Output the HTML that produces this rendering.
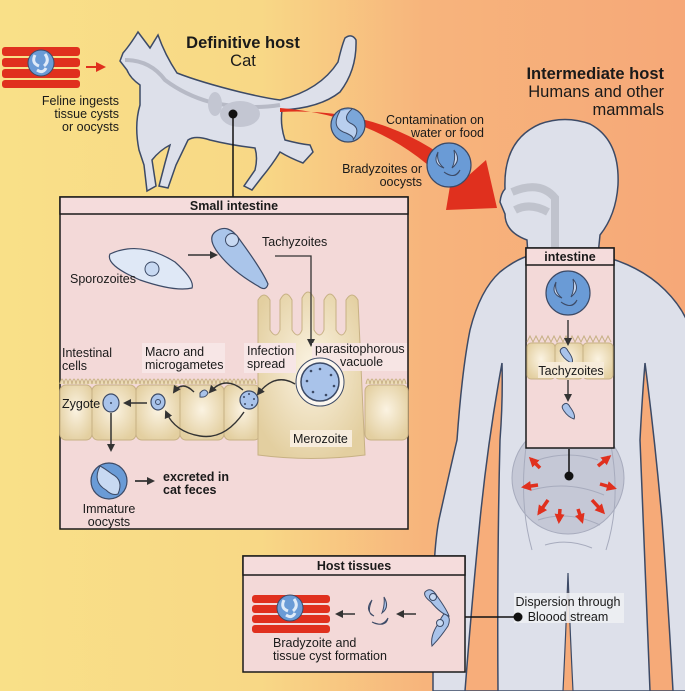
<!DOCTYPE html>
<html><head><meta charset="utf-8"><style>
html,body{margin:0;padding:0;background:#fff}
svg{display:block}
text{font-family:"Liberation Sans",Arial,sans-serif;fill:#1a1a1a}
</style></head><body>
<svg width="685" height="691" viewBox="0 0 685 691" xmlns="http://www.w3.org/2000/svg">
<defs>
<linearGradient id="bg" x1="0" x2="1" y1="0" y2="0">
<stop offset="0" stop-color="#f9e088"/>
<stop offset="0.38" stop-color="#f8d886"/>
<stop offset="0.62" stop-color="#f7b47c"/>
<stop offset="1" stop-color="#f6a878"/>
</linearGradient>
<radialGradient id="cell" cx="0.5" cy="0.45" r="0.6">
<stop offset="0" stop-color="#fbf3e2"/><stop offset="1" stop-color="#e3cfa0"/>
</radialGradient>
<marker id="ah" markerWidth="8" markerHeight="8" refX="6" refY="4" orient="auto" markerUnits="userSpaceOnUse"><path d="M0,0 L8,4 L0,8 Z" fill="#333"/></marker>
<marker id="rh" markerWidth="10" markerHeight="10" refX="7" refY="5" orient="auto" markerUnits="userSpaceOnUse"><path d="M0,0 L10,5 L0,10 Z" fill="#e0301e"/></marker>
</defs>
<rect width="685" height="691" fill="url(#bg)"/>

<path d="M527,240 Q505,232 505,214 L500,202 Q501,193 505,189 Q503,140 540,124 Q565,115 590,124 Q620,140 618,185 Q616,215 600,235 L598,255 Q640,265 665,290 Q685,310 690,330 L690,691 L433,691 L433,600 Q434,540 440,515 Q450,470 457,440 Q462,370 470,330 Q480,290 500,272 Q515,260 528,256 Z" fill="#dde0ea" stroke="#3c4a66" stroke-width="1.5"/>
<path d="M502,363 Q503,400 500,440 Q497,560 498,691 L465,691 Q472,600 480,520 Q488,440 502,363 Z" fill="#f7ad7a" stroke="#3c4a66" stroke-width="1.5"/>
<path d="M645,363 Q642,400 640,440 Q645,560 650,691 L673,691 Q668,600 662,520 Q655,440 645,363 Z" fill="#f6aa78" stroke="#3c4a66" stroke-width="1.5"/>
<path d="M568,573 Q566,630 563,691 L573,691 Q570,630 568,573 Z" fill="#f6ab79" stroke="#3c4a66" stroke-width="1.2"/>
<path d="M512,192 Q540,180 555,198 L555,340 M515,210 Q530,202 548,212" fill="none" stroke="#b9bcc6" stroke-width="8" opacity="0.8"/>
<g fill="#c5c8d6" stroke="#a7abbd" stroke-width="1">
<ellipse cx="568" cy="478" rx="56" ry="56"/>
<path d="M527,440 Q518,500 532,550 M610,440 Q622,500 606,550 M538,460 Q568,450 598,460 M532,490 Q568,480 604,495 M538,520 Q568,510 600,525 M545,545 Q568,538 592,548" fill="none"/>
</g>
<g stroke="#e0301e" stroke-width="3.5" marker-end="url(#rh)">
<line x1="540" y1="468" x2="531" y2="459"/><line x1="598" y1="466" x2="609" y2="457"/>
<line x1="538" y1="485" x2="524" y2="487"/><line x1="600" y1="484" x2="614" y2="488"/>
<line x1="548" y1="500" x2="539" y2="513"/><line x1="592" y1="500" x2="603" y2="512"/>
<line x1="560" y1="509" x2="559" y2="521"/><line x1="578" y1="509" x2="582" y2="521"/>
</g>
<rect x="514" y="593" width="110" height="30" fill="#eef0f3" opacity="0.85"/>
<text x="568" y="606" font-size="12.5" text-anchor="middle">Dispersion through</text>
<text x="568" y="621" font-size="12.5" text-anchor="middle">Bloood stream</text>
<line x1="569" y1="449" x2="569" y2="476" stroke="#111" stroke-width="1.5"/>
<circle cx="569" cy="476" r="4.5" fill="#111"/>

<path d="M138,32 L150,48 L158,35 Q165,55 177,73 Q200,82 240,92 Q265,98 280,100 Q320,90 338,62 Q342,45 345,38 Q352,33 356,40 Q357,70 340,92 Q320,108 282,110 Q280,125 285,140 Q300,144 310,145 L313,152 L303,163 Q290,158 280,152 Q272,165 262,177 L252,190 L244,186 L255,170 Q258,158 255,148 Q230,145 210,140 Q195,135 188,140 L176,165 L168,188 L159,186 L165,163 L170,145 Q160,150 152,160 L156,186 L147,191 L144,165 L139,150 Q134,125 140,105 L140,85 Q130,78 127,70 L120,61 L123,53 Q130,45 138,32 Z" fill="#dde0ea" stroke="#3c4a66" stroke-width="1.5"/>
<path d="M125,60 Q150,60 165,80 Q185,95 210,102 Q225,106 255,107 Q268,107 280,105" fill="none" stroke="#b7bac6" stroke-width="4"/>
<ellipse cx="215" cy="104" rx="7" ry="12" fill="#c3c6d2"/>
<ellipse cx="240" cy="114" rx="20" ry="13" fill="#c3c6d2"/>
<line x1="233" y1="114" x2="233" y2="197" stroke="#111" stroke-width="1.5"/>
<circle cx="233" cy="114" r="4.5" fill="#111"/>

<path d="M280,108 Q385,116 450,186 L446,210 L497,208 L486,160 L468,176 Q390,106 280,112 Z" fill="#e0301e"/>
<circle cx="348" cy="125" r="17" fill="#7ba6d8" stroke="#3c4a66" stroke-width="1.2"/>
<path d="M340,111 Q330,128 346,133 Q355,137 353,140 Q362,128 350,123 Q342,118 352,109" fill="#b9cfee" stroke="#3c4a66"/>
<circle cx="449" cy="165" r="22" fill="#6a9bd6" stroke="#3c4a66" stroke-width="1.2"/>
<path d="M438,152 q-6,12 6,16 q-8,-6 -6,-16 Z M454,150 q8,10 -2,18 q4,-8 2,-18 Z M444,172 q10,8 16,-2 q-4,10 -16,2 Z" fill="#c8d9f2" stroke="#3c4a66"/>
<text x="484" y="124" font-size="12.5" text-anchor="end">Contamination on</text>
<text x="484" y="137" font-size="12.5" text-anchor="end">water or food</text>
<text x="422" y="173" font-size="12.5" text-anchor="end">Bradyzoites or</text>
<text x="422" y="186" font-size="12.5" text-anchor="end">oocysts</text>

<g fill="#e0301e">
<rect x="2" y="47" width="78" height="9" rx="3"/><rect x="2" y="58" width="78" height="9" rx="3"/>
<rect x="2" y="69" width="78" height="9" rx="3"/><rect x="2" y="80" width="78" height="8" rx="3"/>
</g>
<circle cx="41" cy="63" r="13" fill="#6a9bd6" stroke="#3c4a66"/>
<path d="M35,55 q-4,8 4,11 M45,54 q5,7 -1,12 M37,70 q6,4 9,-2" fill="none" stroke="#e0ebf8" stroke-width="3"/>
<line x1="86" y1="67" x2="103" y2="67" stroke="#e0301e" stroke-width="2" marker-end="url(#rh)"/>
<text x="119" y="105" font-size="12.5" text-anchor="end">Feline ingests</text>
<text x="119" y="118" font-size="12.5" text-anchor="end">tissue cysts</text>
<text x="119" y="131" font-size="12.5" text-anchor="end">or oocysts</text>

<text x="243" y="48" font-size="16.5" font-weight="bold" text-anchor="middle">Definitive host</text>
<text x="243" y="66" font-size="16.5" text-anchor="middle">Cat</text>
<text x="664" y="79" font-size="16.5" font-weight="bold" text-anchor="end">Intermediate host</text>
<text x="664" y="97" font-size="16.5" text-anchor="end">Humans and other</text>
<text x="664" y="115" font-size="16.5" text-anchor="end">mammals</text>

<rect x="60" y="197" width="348" height="332" fill="#f3d9d8" stroke="#1a1a1a" stroke-width="1.5"/>
<rect x="60" y="197" width="348" height="17" fill="#f5dcdc" stroke="#1a1a1a" stroke-width="1.5"/>
<text x="234" y="210" font-size="12.5" font-weight="bold" text-anchor="middle">Small intestine</text>
<g fill="url(#cell)" stroke="#c7b184" stroke-width="1">
<rect x="60" y="385" width="32" height="55" rx="6"/>
<rect x="92" y="385" width="44" height="55" rx="6"/>
<rect x="136" y="385" width="44" height="55" rx="6"/>
<rect x="180" y="385" width="44" height="55" rx="6"/>
<rect x="224" y="385" width="36" height="55" rx="6"/>
<rect x="365" y="385" width="43" height="55" rx="6"/>
<path d="M258,455 L258,300 Q264,290 270,300 L270,330 Q276,340 280,330 L280,300 Q286,288 292,300 L292,330 Q298,340 302,330 L302,298 Q308,286 314,298 L314,330 Q320,340 324,330 L324,300 Q330,288 336,300 L336,330 Q342,340 346,330 L346,300 Q352,290 358,300 L365,455 Q311,462 258,455 Z"/>
</g>
<path d="M60,384 Q62,374 64,384 Q66,374 68,384 Q70,374 72,384 Q74,374 76,384 Q78,374 80,384 Q82,374 84,384 Q86,374 88,384 Q90,374 92,384 Q94,374 96,384 Q98,374 100,384 Q102,374 104,384 Q106,374 108,384 Q110,374 112,384 Q114,374 116,384 Q118,374 120,384 Q122,374 124,384 Q126,374 128,384 Q130,374 132,384 Q134,374 136,384 Q138,374 140,384 Q142,374 144,384 Q146,374 148,384 Q150,374 152,384 Q154,374 156,384 Q158,374 160,384 Q162,374 164,384 Q166,374 168,384 Q170,374 172,384 Q174,374 176,384 Q178,374 180,384 Q182,374 184,384 Q186,374 188,384 Q190,374 192,384 Q194,374 196,384 Q198,374 200,384 Q202,374 204,384 Q206,374 208,384 Q210,374 212,384 Q214,374 216,384 Q218,374 220,384 Q222,374 224,384 Q226,374 228,384 Q230,374 232,384 Q234,374 236,384 Q238,374 240,384 Q242,374 244,384 Q246,374 248,384 Q250,374 252,384 Q254,374 256,384 M366,384 Q368,374 370,384 Q372,374 374,384 Q376,374 378,384 Q380,374 382,384 Q384,374 386,384 Q388,374 390,384 Q392,374 394,384 Q396,374 398,384 Q400,374 402,384 Q404,374 406,384" fill="#ecdcb8" stroke="#c7b184" stroke-width="1"/>

<path d="M110,254 Q140,240 175,262 Q195,280 192,288 Q175,292 140,280 Q105,265 110,254 Z" fill="#dfe8f6" stroke="#3c4a66" stroke-width="1.2"/>
<circle cx="152" cy="269" r="7" fill="#c8d9f2" stroke="#3c4a66"/>
<line x1="188" y1="255" x2="216" y2="255" stroke="#333" stroke-width="1.5" marker-end="url(#ah)"/>
<path d="M215,232 Q228,222 240,240 Q262,270 268,284 Q266,292 258,286 Q230,270 216,250 Q208,238 215,232 Z" fill="#aac5ea" stroke="#3c4a66" stroke-width="1.2"/>
<circle cx="232" cy="240" r="6.5" fill="#c8d9f2" stroke="#3c4a66"/>
<text x="262" y="246" font-size="12.5">Tachyzoites</text>
<text x="70" y="283" font-size="12.5">Sporozoites</text>
<path d="M275,256 L311,256 L311,345" fill="none" stroke="#333" stroke-width="1.3" marker-end="url(#ah)"/>

<rect x="61" y="345" width="55" height="30" fill="#f3d9d8"/>
<text x="62" y="357" font-size="12.5">Intestinal</text>
<text x="62" y="370" font-size="12.5">cells</text>
<rect x="142" y="343" width="83" height="30" fill="#f7e6e6"/>
<text x="145" y="356" font-size="12.5">Macro and</text>
<text x="145" y="369" font-size="12.5">microgametes</text>
<rect x="244" y="343" width="52" height="30" fill="#f7e6e6"/>
<text x="247" y="355" font-size="12.5">Infection</text>
<text x="247" y="368" font-size="12.5">spread</text>
<rect x="312" y="343" width="95" height="28" fill="#f7e6e6" opacity="0.9"/>
<text x="315" y="353" font-size="12.5">parasitophorous</text>
<text x="340" y="366" font-size="12.5">vacuole</text>

<circle cx="320" cy="382" r="24" fill="#fbf6ee" stroke="#3c4a66" stroke-width="1"/>
<circle cx="320" cy="382" r="19" fill="#a9c3ea" stroke="#3c4a66" stroke-width="1.5"/>
<g fill="#3c4a66"><circle cx="320" cy="369" r="1.3"/><circle cx="331" cy="375" r="1.3"/><circle cx="334" cy="386" r="1.3"/><circle cx="326" cy="395" r="1.3"/><circle cx="313" cy="392" r="1.3"/><circle cx="307" cy="381" r="1.3"/><circle cx="311" cy="371" r="1.3"/></g>
<rect x="290" y="430" width="62" height="17" fill="#f7ecdc"/>
<text x="293" y="443" font-size="12.5">Merozoite</text>

<circle cx="249" cy="400" r="9" fill="#a9c3ea" stroke="#3c4a66" stroke-width="1.2"/>
<g fill="#3c4a66"><circle cx="249" cy="394" r="1"/><circle cx="254" cy="399" r="1"/><circle cx="252" cy="405" r="1"/><circle cx="245" cy="404" r="1"/><circle cx="244" cy="397" r="1"/></g>
<path d="M295,384 Q275,372 258,394" fill="none" stroke="#333" stroke-width="1.4" marker-end="url(#ah)"/>
<path d="M243,390 Q225,375 210,392" fill="none" stroke="#333" stroke-width="1.4" marker-end="url(#ah)"/>
<path d="M244,412 Q225,440 200,436 Q175,432 166,412" fill="none" stroke="#333" stroke-width="1.4" marker-end="url(#ah)"/>
<path d="M200,393 q5,-6 8,0 q-2,5 -8,4 Z" fill="#a9c3ea" stroke="#3c4a66"/>
<path d="M194,392 q-12,-12 -20,0" fill="none" stroke="#333" stroke-width="1.4" marker-end="url(#ah)"/>
<ellipse cx="158" cy="402" rx="7" ry="8" fill="#a9c3ea" stroke="#3c4a66" stroke-width="1.2"/>
<circle cx="158" cy="402" r="2.5" fill="none" stroke="#3c4a66"/>
<line x1="147" y1="403" x2="125" y2="403" stroke="#333" stroke-width="1.5" marker-end="url(#ah)"/>
<ellipse cx="111" cy="403" rx="8" ry="9" fill="#a9c3ea" stroke="#3c4a66" stroke-width="1.2"/>
<circle cx="111" cy="403" r="1" fill="#3c4a66"/>
<text x="62" y="408" font-size="12.5">Zygote</text>
<line x1="111" y1="413" x2="111" y2="450" stroke="#333" stroke-width="1.5" marker-end="url(#ah)"/>
<circle cx="109" cy="481" r="18" fill="#6a9bd6" stroke="#3c4a66" stroke-width="1.2"/>
<path d="M100,466 Q92,482 106,490 Q112,496 118,494 Q124,480 112,474 Q104,468 100,466 Z" fill="#c8d9f2" stroke="#3c4a66"/>
<line x1="135" y1="481" x2="153" y2="481" stroke="#333" stroke-width="1.8" marker-end="url(#ah)"/>
<text x="163" y="481" font-size="12.5" font-weight="bold">excreted in</text>
<text x="163" y="494" font-size="12.5" font-weight="bold">cat feces</text>
<text x="109" y="513" font-size="12.5" text-anchor="middle">Immature</text>
<text x="109" y="526" font-size="12.5" text-anchor="middle">oocysts</text>

<rect x="526" y="248" width="88" height="200" fill="#f3d9d8" stroke="#1a1a1a" stroke-width="1.5"/>
<rect x="526" y="248" width="88" height="17" fill="#f5dcdc" stroke="#1a1a1a" stroke-width="1.5"/>
<text x="570" y="261" font-size="12.5" font-weight="bold" text-anchor="middle">intestine</text>
<circle cx="568" cy="293" r="22" fill="#6a9bd6" stroke="#3c4a66" stroke-width="1.2"/>
<path d="M556,282 q-6,12 6,16 q-8,-6 -6,-16 Z M573,279 q8,10 -2,18 q4,-8 2,-18 Z M561,302 q10,8 16,-2 q-4,10 -16,2 Z" fill="#c8d9f2" stroke="#3c4a66"/>
<g fill="url(#cell)" stroke="#c7b184"><rect x="527" y="343" width="28" height="36" rx="4"/><rect x="555" y="343" width="28" height="36" rx="4"/><rect x="583" y="343" width="30" height="36" rx="4"/></g>
<path d="M527,342 l3,-6 l3,6 l3,-6 l3,6 l3,-6 l3,6 l3,-6 l3,6 l3,-6 l3,6 l3,-6 l3,6 l3,-6 l3,6 l3,-6 l3,6 l3,-6 l3,6 l3,-6 l3,6 l3,-6 l3,6 l3,-6 l3,6 l3,-6 l3,6 l3,-6 l3,6" fill="none" stroke="#c7b184"/>
<line x1="568" y1="320" x2="568" y2="344" stroke="#333" stroke-width="1.4" marker-end="url(#ah)"/>
<path d="M561,349 q4,-4 7,2 q6,8 4,12 q-6,-2 -10,-8 q-3,-4 -1,-6 Z" fill="#a9c3ea" stroke="#3c4a66"/>
<rect x="538" y="362" width="66" height="16" fill="#f7ecdc" opacity="0.9"/>
<text x="571" y="375" font-size="12.5" text-anchor="middle">Tachyzoites</text>
<line x1="568" y1="380" x2="568" y2="400" stroke="#333" stroke-width="1.4" marker-end="url(#ah)"/>
<path d="M563,405 q4,-4 7,2 q6,8 4,12 q-6,-2 -10,-8 q-3,-4 -1,-6 Z" fill="#a9c3ea" stroke="#3c4a66"/>

<line x1="465" y1="617" x2="517" y2="617" stroke="#111" stroke-width="1.5"/>
<circle cx="518" cy="617" r="4.5" fill="#111"/>
<rect x="243" y="556" width="222" height="116" fill="#f3d9d8" stroke="#1a1a1a" stroke-width="1.5"/>
<rect x="243" y="556" width="222" height="19" fill="#f5dcdc" stroke="#1a1a1a" stroke-width="1.5"/>
<text x="354" y="570" font-size="12.5" font-weight="bold" text-anchor="middle">Host tissues</text>
<g fill="#e0301e">
<rect x="252" y="595" width="78" height="8" rx="3"/><rect x="252" y="605" width="78" height="8" rx="3"/>
<rect x="252" y="615" width="78" height="8" rx="3"/><rect x="252" y="625" width="78" height="8" rx="3"/>
</g>
<circle cx="290" cy="608" r="13" fill="#6a9bd6" stroke="#3c4a66"/>
<path d="M284,600 q-4,8 4,11 M294,599 q5,7 -1,12 M286,615 q6,4 9,-2" fill="none" stroke="#e0ebf8" stroke-width="3"/>
<line x1="355" y1="614" x2="337" y2="614" stroke="#333" stroke-width="1.5" marker-end="url(#ah)"/>
<path d="M372,600 q-8,10 2,16 q-8,-2 -2,-16 Z M384,597 q6,10 -2,16 q3,-8 2,-16 Z M372,622 q10,6 16,-4 q-2,10 -16,4 Z" fill="#a9c3ea" stroke="#3c4a66"/>
<line x1="416" y1="614" x2="398" y2="614" stroke="#333" stroke-width="1.5" marker-end="url(#ah)"/>
<path d="M425,592 q6,-6 12,4 q10,14 12,20 q-8,-2 -18,-14 q-8,-6 -6,-10 Z" fill="#a9c3ea" stroke="#3c4a66"/>
<circle cx="433" cy="597" r="3.5" fill="#c8d9f2" stroke="#3c4a66"/>
<path d="M444,614 q8,2 4,12 q-8,12 -16,20 q-2,-10 6,-22 q4,-8 6,-10 Z" fill="#a9c3ea" stroke="#3c4a66"/>
<circle cx="440" cy="623" r="3.5" fill="#c8d9f2" stroke="#3c4a66"/>
<text x="273" y="647" font-size="12.5">Bradyzoite and</text>
<text x="273" y="660" font-size="12.5">tissue cyst formation</text>
</svg>
</body></html>
